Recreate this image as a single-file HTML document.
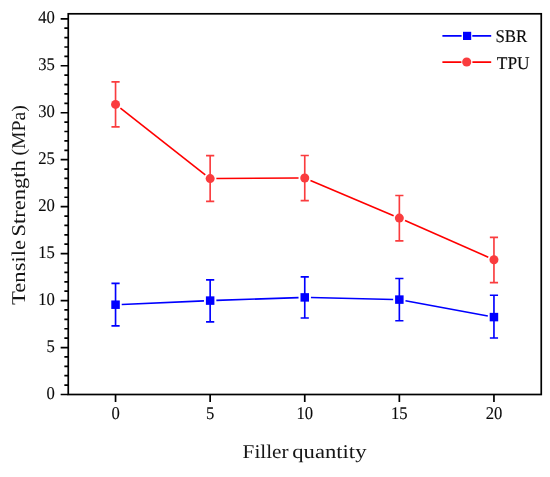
<!DOCTYPE html>
<html lang="en"><head><meta charset="utf-8"><title>Tensile Strength vs Filler quantity</title>
<style>html,body{margin:0;padding:0;background:#fff}body{width:550px;height:477px;overflow:hidden}</style></head>
<body>
<svg width="550" height="477" viewBox="0 0 550 477" style="display:block">
<rect x="0" y="0" width="550" height="477" fill="#ffffff"/>
<line x1="121.74" y1="304.43" x2="203.96" y2="300.87" stroke="#0000ff" stroke-width="1.6"/>
<line x1="216.35" y1="300.39" x2="298.55" y2="297.61" stroke="#0000ff" stroke-width="1.6"/>
<line x1="310.95" y1="297.54" x2="393.15" y2="299.46" stroke="#0000ff" stroke-width="1.6"/>
<line x1="405.45" y1="300.73" x2="487.85" y2="315.97" stroke="#0000ff" stroke-width="1.6"/>
<path d="M115.55 283.30V325.90M111.45 283.30H119.65M111.45 325.90H119.65" stroke="#0000ff" stroke-width="1.65" fill="none"/>
<rect x="111.30" y="300.45" width="8.5" height="8.5" fill="#0000ff"/>
<path d="M210.15 279.80V321.90M206.05 279.80H214.25M206.05 321.90H214.25" stroke="#0000ff" stroke-width="1.65" fill="none"/>
<rect x="205.90" y="296.35" width="8.5" height="8.5" fill="#0000ff"/>
<path d="M304.75 276.80V318.00M300.65 276.80H308.85M300.65 318.00H308.85" stroke="#0000ff" stroke-width="1.65" fill="none"/>
<rect x="300.50" y="293.15" width="8.5" height="8.5" fill="#0000ff"/>
<path d="M399.35 278.50V320.70M395.25 278.50H403.45M395.25 320.70H403.45" stroke="#0000ff" stroke-width="1.65" fill="none"/>
<rect x="395.10" y="295.35" width="8.5" height="8.5" fill="#0000ff"/>
<path d="M493.95 295.20V338.00M489.85 295.20H498.05M489.85 338.00H498.05" stroke="#0000ff" stroke-width="1.65" fill="none"/>
<rect x="489.70" y="312.85" width="8.5" height="8.5" fill="#0000ff"/>
<line x1="120.43" y1="108.23" x2="205.27" y2="174.77" stroke="#ff0000" stroke-width="1.6"/>
<line x1="216.35" y1="178.56" x2="298.55" y2="178.04" stroke="#ff0000" stroke-width="1.6"/>
<line x1="310.46" y1="180.42" x2="393.64" y2="215.68" stroke="#ff0000" stroke-width="1.6"/>
<line x1="405.03" y1="220.60" x2="488.27" y2="257.20" stroke="#ff0000" stroke-width="1.6"/>
<path d="M115.55 81.80V126.90M111.45 81.80H119.65M111.45 126.90H119.65" stroke="#fa3c3e" stroke-width="1.65" fill="none"/>
<circle cx="115.55" cy="104.40" r="4.5" fill="#fa3c3e"/>
<path d="M210.15 155.60V201.30M206.05 155.60H214.25M206.05 201.30H214.25" stroke="#fa3c3e" stroke-width="1.65" fill="none"/>
<circle cx="210.15" cy="178.60" r="4.5" fill="#fa3c3e"/>
<path d="M304.75 155.50V200.60M300.65 155.50H308.85M300.65 200.60H308.85" stroke="#fa3c3e" stroke-width="1.65" fill="none"/>
<circle cx="304.75" cy="178.00" r="4.5" fill="#fa3c3e"/>
<path d="M399.35 195.50V240.80M395.25 195.50H403.45M395.25 240.80H403.45" stroke="#fa3c3e" stroke-width="1.65" fill="none"/>
<circle cx="399.35" cy="218.10" r="4.5" fill="#fa3c3e"/>
<path d="M493.95 237.30V282.60M489.85 237.30H498.05M489.85 282.60H498.05" stroke="#fa3c3e" stroke-width="1.65" fill="none"/>
<circle cx="493.95" cy="259.70" r="4.5" fill="#fa3c3e"/>
<rect x="68.25" y="13.8" width="473.00" height="380.70" fill="none" stroke="#000" stroke-width="1.7"/>
<path d="M60.65 394.50H68.25M64.35 385.11H68.25M64.35 375.71H68.25M64.35 366.32H68.25M64.35 356.93H68.25M60.65 347.54H68.25M64.35 338.14H68.25M64.35 328.75H68.25M64.35 319.36H68.25M64.35 309.97H68.25M60.65 300.57H68.25M64.35 291.18H68.25M64.35 281.79H68.25M64.35 272.40H68.25M64.35 263.00H68.25M60.65 253.61H68.25M64.35 244.22H68.25M64.35 234.83H68.25M64.35 225.44H68.25M64.35 216.04H68.25M60.65 206.65H68.25M64.35 197.26H68.25M64.35 187.87H68.25M64.35 178.47H68.25M64.35 169.08H68.25M60.65 159.69H68.25M64.35 150.29H68.25M64.35 140.90H68.25M64.35 131.51H68.25M64.35 122.12H68.25M60.65 112.73H68.25M64.35 103.33H68.25M64.35 93.94H68.25M64.35 84.55H68.25M64.35 75.15H68.25M60.65 65.76H68.25M64.35 56.37H68.25M64.35 46.98H68.25M64.35 37.58H68.25M64.35 28.19H68.25M60.65 18.80H68.25" stroke="#000" stroke-width="1.7" fill="none"/>
<path d="M115.55 394.50V401.90M210.15 394.50V401.90M304.75 394.50V401.90M399.35 394.50V401.90M493.95 394.50V401.90" stroke="#000" stroke-width="1.7" fill="none"/>
<text transform="translate(54.8 399.00) scale(0.93 1)" text-anchor="end" font-family="'Liberation Serif', serif" text-rendering="geometricPrecision" font-size="17.9" fill="#0a0a0a" stroke="#0a0a0a" stroke-width="0.12">0</text>
<text transform="translate(54.8 352.04) scale(0.93 1)" text-anchor="end" font-family="'Liberation Serif', serif" text-rendering="geometricPrecision" font-size="17.9" fill="#0a0a0a" stroke="#0a0a0a" stroke-width="0.12">5</text>
<text transform="translate(54.8 305.07) scale(0.93 1)" text-anchor="end" font-family="'Liberation Serif', serif" text-rendering="geometricPrecision" font-size="17.9" fill="#0a0a0a" stroke="#0a0a0a" stroke-width="0.12">10</text>
<text transform="translate(54.8 258.11) scale(0.93 1)" text-anchor="end" font-family="'Liberation Serif', serif" text-rendering="geometricPrecision" font-size="17.9" fill="#0a0a0a" stroke="#0a0a0a" stroke-width="0.12">15</text>
<text transform="translate(54.8 211.15) scale(0.93 1)" text-anchor="end" font-family="'Liberation Serif', serif" text-rendering="geometricPrecision" font-size="17.9" fill="#0a0a0a" stroke="#0a0a0a" stroke-width="0.12">20</text>
<text transform="translate(54.8 164.19) scale(0.93 1)" text-anchor="end" font-family="'Liberation Serif', serif" text-rendering="geometricPrecision" font-size="17.9" fill="#0a0a0a" stroke="#0a0a0a" stroke-width="0.12">25</text>
<text transform="translate(54.8 117.23) scale(0.93 1)" text-anchor="end" font-family="'Liberation Serif', serif" text-rendering="geometricPrecision" font-size="17.9" fill="#0a0a0a" stroke="#0a0a0a" stroke-width="0.12">30</text>
<text transform="translate(54.8 70.26) scale(0.93 1)" text-anchor="end" font-family="'Liberation Serif', serif" text-rendering="geometricPrecision" font-size="17.9" fill="#0a0a0a" stroke="#0a0a0a" stroke-width="0.12">35</text>
<text transform="translate(54.8 23.30) scale(0.93 1)" text-anchor="end" font-family="'Liberation Serif', serif" text-rendering="geometricPrecision" font-size="17.9" fill="#0a0a0a" stroke="#0a0a0a" stroke-width="0.12">40</text>
<text transform="translate(115.55 419.3) scale(0.93 1)" text-anchor="middle" font-family="'Liberation Serif', serif" text-rendering="geometricPrecision" font-size="17.9" fill="#0a0a0a" stroke="#0a0a0a" stroke-width="0.12">0</text>
<text transform="translate(210.15 419.3) scale(0.93 1)" text-anchor="middle" font-family="'Liberation Serif', serif" text-rendering="geometricPrecision" font-size="17.9" fill="#0a0a0a" stroke="#0a0a0a" stroke-width="0.12">5</text>
<text transform="translate(304.75 419.3) scale(0.93 1)" text-anchor="middle" font-family="'Liberation Serif', serif" text-rendering="geometricPrecision" font-size="17.9" fill="#0a0a0a" stroke="#0a0a0a" stroke-width="0.12">10</text>
<text transform="translate(399.35 419.3) scale(0.93 1)" text-anchor="middle" font-family="'Liberation Serif', serif" text-rendering="geometricPrecision" font-size="17.9" fill="#0a0a0a" stroke="#0a0a0a" stroke-width="0.12">15</text>
<text transform="translate(493.95 419.3) scale(0.93 1)" text-anchor="middle" font-family="'Liberation Serif', serif" text-rendering="geometricPrecision" font-size="17.9" fill="#0a0a0a" stroke="#0a0a0a" stroke-width="0.12">20</text>
<text font-family="'Liberation Serif', serif" text-rendering="geometricPrecision" font-size="19.5" fill="#161616" y="457.8"><tspan x="242.6" textLength="46.0" lengthAdjust="spacingAndGlyphs">Filler</tspan> <tspan x="292.3" textLength="74.2" lengthAdjust="spacingAndGlyphs">quantity</tspan></text>
<text transform="translate(24.8 304.7) rotate(-90)" font-family="'Liberation Serif', serif" text-rendering="geometricPrecision" font-size="19.5" fill="#161616" y="0"><tspan x="-0.2" textLength="64.9" lengthAdjust="spacingAndGlyphs">Tensile</tspan> <tspan x="68.2" textLength="76.3" lengthAdjust="spacingAndGlyphs">Strength</tspan> <tspan x="149.2" textLength="50.4" lengthAdjust="spacingAndGlyphs">(MPa)</tspan></text>
<path d="M442.4 35.9H461.6M472.3 35.9H491.2" stroke="#0000ff" stroke-width="1.75"/>
<rect x="463.0" y="31.8" width="8.2" height="8.2" fill="#0000ff"/>
<path d="M442.4 62.05H461.4M472.4 62.05H491.2" stroke="#ff0000" stroke-width="1.75"/>
<circle cx="466.7" cy="62" r="4.55" fill="#fa3c3e"/>
<text transform="translate(495.4 42.0) scale(0.95 1)" font-family="'Liberation Serif', serif" text-rendering="geometricPrecision" font-size="17.8" fill="#0a0a0a" stroke="#0a0a0a" stroke-width="0.12" textLength="33.47" lengthAdjust="spacingAndGlyphs">SBR</text>
<text transform="translate(496.8 68.8) scale(0.95 1)" font-family="'Liberation Serif', serif" text-rendering="geometricPrecision" font-size="17.8" fill="#0a0a0a" stroke="#0a0a0a" stroke-width="0.12" textLength="34.53" lengthAdjust="spacingAndGlyphs">TPU</text>
</svg>
</body></html>
